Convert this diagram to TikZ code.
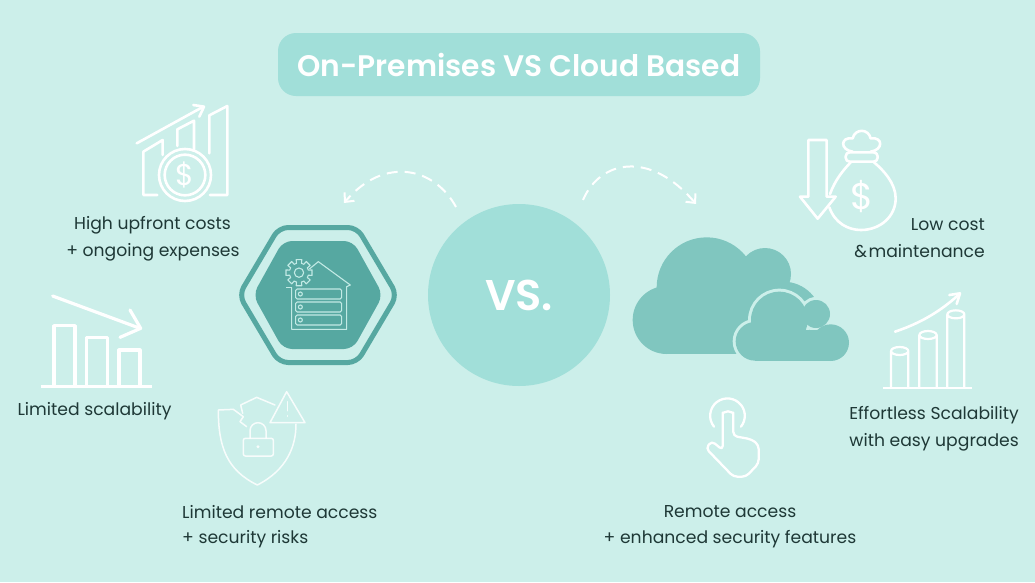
\documentclass[tikz,border=0pt]{standalone}
\usepackage{fontspec}
\setmainfont{Poppins}
\newfontfamily\semib{Poppins SemiBold}
\usetikzlibrary{arrows.meta}
\definecolor{bgc}{HTML}{CCEFEA}
\definecolor{pillc}{HTML}{A1DFD9}
\definecolor{hexc}{HTML}{56A8A1}
\definecolor{cloudc}{HTML}{80C6BF}
\definecolor{inkc}{HTML}{1E3836}
\definecolor{housec}{HTML}{C2EAE5}
\tikzset{
  lab/.style={text=inkc,font=\fontsize{17.2}{20}\selectfont,inner sep=0pt},
  ico/.style={draw=white,line width=2.6pt,line join=round,line cap=round},
  thin ico/.style={draw=white,opacity=.85,line width=1.5pt,line join=round,line cap=round},
  hand ico/.style={draw=white,line width=2.3pt,line join=round,line cap=round},
  housel/.style={draw=housec,line width=1.1pt,line join=round},
  dashedarc/.style={draw=white,line width=2pt,dash pattern=on 11pt off 7pt,-{Straight Barb[length=7pt,width=13pt,line width=2pt]}},
  crop/.style={shift={#1},scale=1/3}
}
\begin{document}
\begin{tikzpicture}[x=1pt,y=-1pt]
\useasboundingbox (0,0) rectangle (1035,582);
\fill[bgc] (0,0) rectangle (1035,582);
% title
\node[fill=pillc,rounded corners=18pt,minimum width=482pt,minimum height=63pt,inner sep=0pt,text=white,font=\fontsize{29.7}{32}\selectfont\semib] (title) at (519,64.5) {On-Premises VS Cloud Based};
% centre
\node[circle,fill=pillc,minimum size=182pt,inner sep=0pt,text=white,font=\fontsize{43}{48}\selectfont\semib] (vs) at (519,295) {VS.};
% hexagon
\draw[hexc,line width=5pt,rounded corners=9pt,line join=round] (239,295) -- (279,227.5) -- (357,227.5) -- (397,295) -- (357,362.5) -- (279,362.5) -- cycle;
\fill[hexc,rounded corners=9pt] (253,295) -- (283,241) -- (353,241) -- (383,295) -- (353,349) -- (283,349) -- cycle;
\begin{scope}[crop={(120,90)}]
 \draw[housel] (515,592) -- (515,718) -- (680,718) -- (680,590) -- (691,585) -- (595,515) -- (568,537);
 \draw[housel] (515,592) -- (498,592);
 \foreach \yy in {597,636,675}{
  \draw[housel,rounded corners=1.5pt] (527,\yy) rectangle (665,\yy+30);
  \draw[housel] (541,\yy+15) circle (6);
 }
 \begin{scope}[shift={(537,548)}]
  \draw[housel] (-12:40) \foreach \a in {0,45,...,315}{ -- (\a-12:40) -- (\a+12:40) -- (\a+15:29) -- (\a+30:29)} -- cycle;
  \draw[housel] (0,0) circle (14);
 \end{scope}
\end{scope}
% cloud
\begin{scope}[crop={(570,150)}]
 \fill[cloudc] (290,510) circle (102);
 \fill[cloudc] (410,412) circle (150);
 \fill[cloudc] (585,372) circle (78);
 \fill[cloudc] (640,510) circle (115);
 \fill[cloudc] (290,420) rectangle (640,612);
 \begin{scope}[line width=6pt,draw=bgc]
  \filldraw[bgc] (555,574) circle (58);
  \filldraw[bgc] (628,510) circle (85);
  \filldraw[bgc] (738,492) circle (42);
  \filldraw[bgc] (782,578) circle (55);
  \filldraw[bgc] (555,560) rectangle (782,632);
 \end{scope}
 \fill[cloudc] (555,574) circle (58);
 \fill[cloudc] (628,510) circle (85);
 \fill[cloudc] (738,492) circle (42);
 \fill[cloudc] (782,578) circle (55);
 \fill[cloudc] (555,540) rectangle (782,632);
\end{scope}
% dashed arcs
\coordinate (la) at (456,207);
\coordinate (lb) at (344,203);
\coordinate (ra) at (583,200);
\coordinate (rb) at (696,204);
\draw[dashedarc] (la) .. controls (435,168) and (385,155) .. (lb);
\draw[dashedarc] (ra) .. controls (600,160) and (650,150) .. (rb);
% chart with coin
\begin{scope}[crop={(120,90)}]
 \draw[ico] (50,160) -- (250,50);
 \draw[ico] (220,45) -- (252,50) -- (238,80);
 \draw[ico] (112,315) -- (70,315) -- (70,185) -- (128,150) -- (128,195);
 \draw[ico] (172,168) -- (172,118) -- (222,92) -- (222,178);
 \draw[ico] (270,315) -- (322,315) -- (322,48) -- (268,76) -- (268,190);
 \draw[ico] (195,255) circle (78);
 \draw[ico] (195,255) circle (61);
 \node[text=white,inner sep=0pt,font=\fontsize{30}{32}\selectfont] (coin) at (195,255) {\$};
\end{scope}
% limited scalability chart
\begin{scope}[crop={(20,280)}]
 \draw[ico,line width=3.4pt,line cap=butt] (62,320) -- (397,320);
 \draw[ico,line width=3.2pt,line cap=butt] (102,320) -- (102,137) -- (165,137) -- (165,320);
 \draw[ico,line width=3.2pt,line cap=butt] (199,320) -- (199,172) -- (263,172) -- (263,320);
 \draw[ico,line width=3.2pt,line cap=butt] (297,320) -- (297,210) -- (360,210) -- (360,320);
 \draw[ico,line width=3.2pt] (98,48) -- (360,145);
 \draw[ico,line width=3.2pt] (330,90) -- (362,145) -- (300,172);
\end{scope}
% shield
\begin{scope}[crop={(20,280)}]
 \draw[thin ico] (680,440) -- (660,425) -- (670,410) -- (640,388) -- (595,390) .. controls (595,500) and (620,570) .. (712,615) .. controls (800,570) and (828,500) .. (828,432);
 \draw[thin ico] (668,400) -- (662,375) -- (710,352) -- (765,375);
 \draw[thin ico,rounded corners=2pt] (670,475) rectangle (760,528);
 \draw[thin ico] (690,475) -- (690,452) arc[start angle=180,end angle=360,radius=24] -- (738,475);
 \draw[thin ico] (800,335) -- (855,428) -- (750,428) -- cycle;
 \draw[thin ico] (802,365) -- (802,392);
 \draw[thin ico] (802,407) -- (802,409);
 \fill[white,opacity=.85] (714,500) circle (5);
\end{scope}
% money bag
\begin{scope}[crop={(780,120)}]
 \draw[ico] (85,60) -- (140,60) -- (140,230) -- (167,230) -- (113,296) -- (60,230) -- (85,230) -- cycle;
 \draw[ico] (150,222) .. controls (165,180) and (190,150) .. (212,127);
 \draw[ico] (148,262) .. controls (165,310) and (205,330) .. (243,330) .. controls (300,330) and (347,290) .. (347,235) .. controls (347,190) and (310,150) .. (282,127);
 \draw[ico,rounded corners=4pt] (197,97) rectangle (293,125);
 \draw[ico] (218,95) .. controls (180,90) and (180,50) .. (218,55) .. controls (225,25) and (265,25) .. (272,55) .. controls (310,50) and (310,90) .. (272,95);
 \node[text=white,inner sep=0pt,font=\fontsize{37}{39}\selectfont] (bag) at (245,230) {\$};
\end{scope}
% rising cylinders
\begin{scope}[crop={(780,120)}]
 \draw[ico,line width=2.2pt,line cap=butt] (310,805) -- (577,805);
 \foreach \xa/\xb/\yy in {333/385/693,418/470/645,502/553/583}{
  \draw[ico,line width=2.2pt,line cap=butt] (\xa,805) -- (\xa,\yy) arc[start angle=180,end angle=0,x radius={(\xb-\xa)/2},y radius=12] -- (\xb,805);
  \draw[ico,line width=2.2pt,line cap=butt] (\xa,\yy) arc[start angle=180,end angle=360,x radius={(\xb-\xa)/2},y radius=12];
 }
 \draw[ico] (345,635) .. controls (420,610) and (480,575) .. (535,525);
 \draw[ico] (508,525) -- (540,520) -- (530,552);
\end{scope}
% hand
\begin{scope}[crop={(570,150)}]
 \draw[hand ico] (432,830) arc[start angle=141,end angle=399,radius=52];
 \draw[hand ico,rounded corners=4pt] (458,900) -- (458,800) arc[start angle=180,end angle=360,radius=16] -- (490,858) -- (545,868) -- (566,885) -- (566,940) -- (528,980) -- (490,980) -- (408,895) -- (425,873) -- cycle;
\end{scope}
% labels
\node[lab] (t1) at (152.5,225) {High upfront costs};
\node[lab] (t2) at (153,252) {+ ongoing expenses};
\node[lab] (t3) at (94.5,411) {Limited scalability};
\node[lab,anchor=west] (t4) at (182,512) {Limited remote access};
\node[lab,anchor=west] (t5) at (182,539) {+ security risks};
\node[lab,anchor=east] (t6) at (985,224.5) {Low cost};
\node[lab,anchor=east] (t7) at (985,251.5) {\&\hspace{-3pt} maintenance};
\node[lab,anchor=east] (t8) at (1019,415) {Effortless Scalability};
\node[lab,anchor=east] (t9) at (1019,442) {with easy upgrades};
\node[lab] (t10) at (730,512) {Remote access};
\node[lab] (t11) at (730,539) {+ enhanced security features};
\end{tikzpicture}
\end{document}
